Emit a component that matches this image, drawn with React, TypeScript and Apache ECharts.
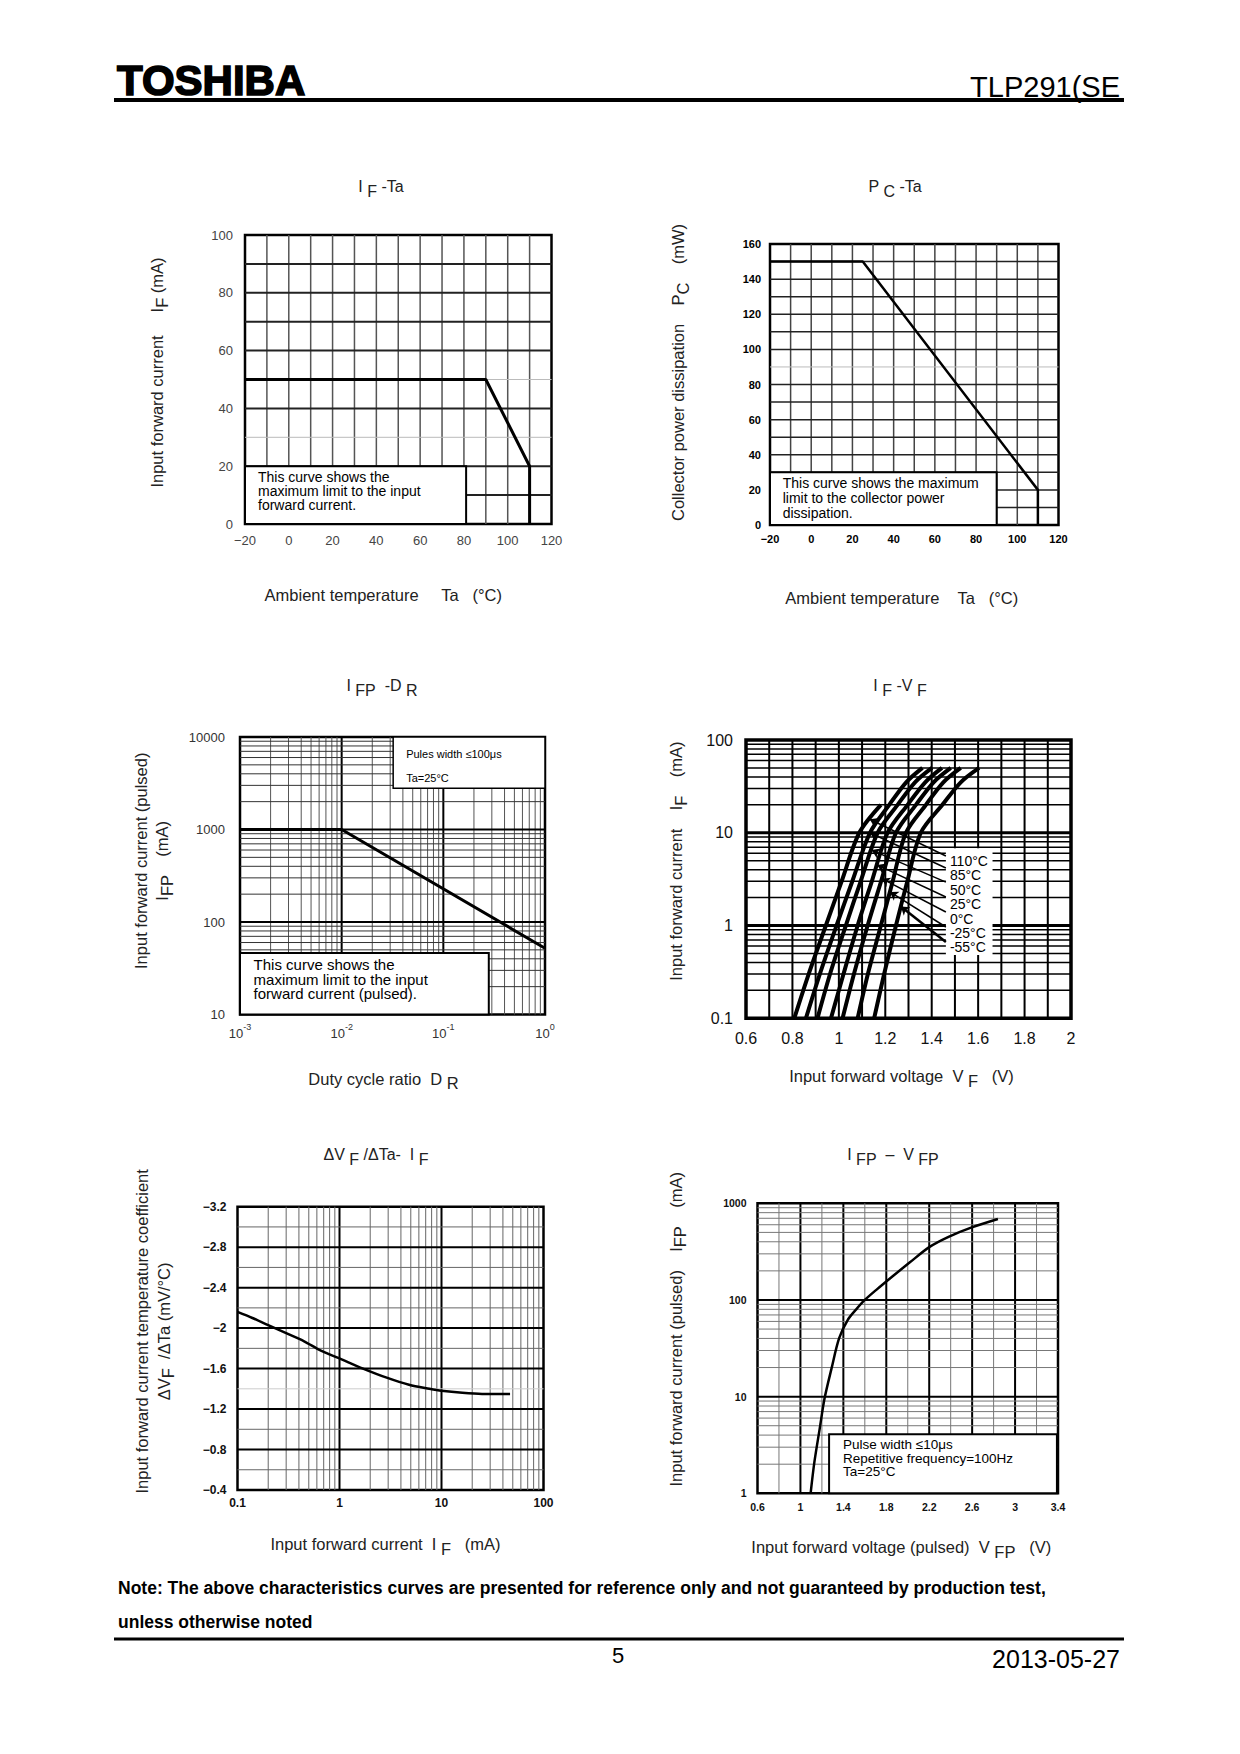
import React, { useEffect, useRef } from "react";
import * as echarts from "echarts";

const SANS = "'Liberation Sans', Arial, Helvetica, sans-serif";
const NARROW = "'Liberation Sans Narrow', 'Liberation Sans', Arial, sans-serif";

// ===== IF – Ta =====
const ifTaTemp = [-20, 90, 110, 110];
const ifTaCurrent = [50, 50, 20, 0];
const ifTaBox = [-20, 0, 81, 20];
const ifTaNote = ["This curve shows the", "maximum limit to the input", "forward current."];

// ===== PC – Ta =====
const pcTaTemp = [-20, 25, 110, 110];
const pcTaPower = [150, 150, 20, 0];
const pcTaBox = [-20, 0, 90, 30];
const pcTaNote = ["This curve shows the maximum", "limit to the collector power", "dissipation."];

// ===== IFP – DR =====
const dutyRatio = [0.001, 0.01, 1];
const ifpDuty = [1000, 1000, 52];
const drCondBox = [0.0321, 2786, 1, 10000];
const drCond = ["Pules width ≤100μs", "Ta=25°C"];
const drNoteBox = [0.001, 10, 0.28, 46.2];
const drNote = ["This curve shows the", "maximum limit to the input", "forward current (pulsed)."];

// ===== IF – VF =====
const vfTempLabels = ["110°C", "85°C", "50°C", "25°C", "0°C", "-25°C", "-55°C"];
const vfCurrent = [0.1, 0.3, 1, 3, 10, 20, 35, 50];
const vf110C = [0.808, 0.87, 0.944, 1.012, 1.088, 1.181];
const vf85C = [0.858, 0.918, 0.99, 1.058, 1.134, 1.217, 1.29, 1.36];
const vf50C = [0.908, 0.962, 1.03, 1.094, 1.167, 1.253, 1.328, 1.401];
const vf25C = [0.966, 1.02, 1.081, 1.142, 1.21, 1.296, 1.372, 1.444];
const vf0C = [1.016, 1.065, 1.124, 1.182, 1.246, 1.332, 1.408, 1.482];
const vfM25C = [1.081, 1.125, 1.181, 1.232, 1.289, 1.375, 1.45, 1.525];
const vfM55C = [1.152, 1.195, 1.246, 1.295, 1.353, 1.446, 1.525, 1.604];
const vfLabelBox = [1.461, 0.481, 1.662, 6.79];
const leaderCurveV = [1.133, 1.134, 1.141, 1.165, 1.185, 1.22, 1.267];
const leaderCurveI = [14, 10, 6.5, 4.5, 3.2, 2.3, 1.6];
const leaderLabelV = 1.461;
const leaderLabelI = [5.62, 4.17, 2.94, 2.03, 1.4, 0.964, 0.665];

// ===== ΔVF/ΔTa – IF =====
const dvCurrent = [0.1, 0.14, 0.2, 0.3, 0.45, 0.65, 1, 1.7, 2.9, 4.8, 7.6, 10, 16, 25, 47];
const dvCoef = [-2.16, -2.1, -2.03, -1.95, -1.87, -1.78, -1.7, -1.6, -1.51, -1.44, -1.4, -1.38, -1.36, -1.35, -1.35];

// ===== IFP – VFP =====
const vfpVoltage = [1.095, 1.13, 1.18, 1.225, 1.29, 1.36, 1.44, 1.52, 1.6, 1.71, 1.865, 2.02, 2.2, 2.38, 2.59, 2.84];
const ifpPulsed = [1, 2.1, 4.7, 9.6, 19.6, 40, 62, 80, 100, 128, 178, 245, 352, 450, 560, 689];
const vfpCondBox = [1.267, 1, 3.39, 4.07];
const vfpCond = ["Pulse width ≤10μs", "Repetitive frequency=100Hz", "Ta=25°C"];

// ===== grid line values =====
const tempGridV = [-10, 0, 10, 20, 30, 40, 50, 60, 70, 80, 90, 100, 110];
const ifGridH = [10, 20, 30, 40, 50, 60, 70, 80, 90];
const ifGridLight = [30, 50];
const pcGridH = [10, 20, 30, 40, 50, 60, 70, 80, 90, 100, 110, 120, 130, 140, 150];
const pcGridLight = [90];
const logMinor = [2, 3, 4, 5, 6, 7, 8, 9];
const drDecadesX = [0.001, 0.01, 0.1];
const drDecadesY = [10, 100, 1000];
const vfGridV = [0.7, 0.8, 0.9, 1.0, 1.1, 1.2, 1.3, 1.4, 1.5, 1.6, 1.7, 1.8, 1.9];
const vfDecadesY = [0.1, 1, 10];
const dvDecadesX = [0.1, 1, 10];
const dvGridH = [-3.0, -2.8, -2.6, -2.4, -2.2, -2.0, -1.8, -1.6, -1.4, -1.2, -1.0, -0.8, -0.6];
const dvGridMajor = [-2.8, -2.4, -2.0, -1.6, -1.2, -0.8];
const dvGridFaint = [-1.4];
const vfpGridV = [0.8, 1.0, 1.2, 1.4, 1.6, 1.8, 2.0, 2.2, 2.4, 2.6, 2.8, 3.0, 3.2];
const vfpGridMajor = [1.0, 1.4, 1.8, 2.2, 2.6, 3.0];
const vfpDecadesY = [1, 10, 100];

type GL = { v: number; o: "v" | "h"; c: string; w: number };

const near = (a: number, list: number[]) => list.some((b) => Math.abs(a - b) < 1e-9);

function linLines(vals: number[], o: "v" | "h", c: string, w: number, special: number[] = [], sc = "#bbb", sw = 1): GL[] {
  return vals.map((v) => (near(v, special) ? { v, o, c: sc, w: sw } : { v, o, c, w }));
}

function logLines(decades: number[], o: "v" | "h", mc: string, mw: number, nc: string, nw: number): GL[] {
  const out: GL[] = [];
  decades.forEach((d, i) => {
    if (i > 0) out.push({ v: d, o, c: mc, w: mw });
    logMinor.forEach((m) => out.push({ v: +(d * m).toPrecision(6), o, c: nc, w: nw }));
  });
  return out;
}

function gridLineSeries(idx: number, lines: GL[], xMin: number, yMin: number) {
  return {
    type: "custom",
    xAxisIndex: idx,
    yAxisIndex: idx,
    silent: true,
    z: 1,
    clip: false,
    encode: { x: 0, y: 1 },
    data: lines.map((l) => (l.o === "v" ? [l.v, yMin] : [xMin, l.v])),
    renderItem: (params: any, api: any) => {
      const l = lines[params.dataIndex];
      const cs = params.coordSys;
      const p = api.coord([api.value(0), api.value(1)]);
      const shape =
        l.o === "v"
          ? { x1: p[0], y1: cs.y, x2: p[0], y2: cs.y + cs.height }
          : { x1: cs.x, y1: p[1], x2: cs.x + cs.width, y2: p[1] };
      return { type: "line", shape, style: { stroke: l.c, lineWidth: l.w } };
    },
  };
}

function boxSeries(
  idx: number,
  box: number[],
  lines: string[],
  opt: { fontSize: number; family: string; lh: number; padX: number; padY: number; border: boolean; bw?: number }
) {
  return {
    type: "custom",
    xAxisIndex: idx,
    yAxisIndex: idx,
    silent: true,
    z: 2,
    clip: false,
    encode: { x: [0, 2], y: [1, 3] },
    data: [box],
    renderItem: (params: any, api: any) => {
      const a = api.coord([api.value(0), api.value(1)]);
      const b = api.coord([api.value(2), api.value(3)]);
      const x = Math.min(a[0], b[0]);
      const y = Math.min(a[1], b[1]);
      const w = Math.abs(b[0] - a[0]);
      const h = Math.abs(b[1] - a[1]);
      return {
        type: "group",
        children: [
          {
            type: "rect",
            shape: { x, y, width: w, height: h },
            style: { fill: "#fff", stroke: opt.border ? "#000" : null, lineWidth: opt.border ? opt.bw || 2 : 0 },
          },
          {
            type: "text",
            style: {
              text: lines.join("\n"),
              x: x + opt.padX,
              y: y + opt.padY,
              fontSize: opt.fontSize,
              fontFamily: opt.family,
              fill: "#000",
              lineHeight: opt.lh,
              align: "left",
              textAlign: "left",
              verticalAlign: "top",
              textVerticalAlign: "top",
            },
          },
        ],
      };
    },
  };
}

function curve(idx: number, xs: number[], ys: number[], width: number, smooth: number | boolean = false, extra: any = {}) {
  return {
    type: "line",
    xAxisIndex: idx,
    yAxisIndex: idx,
    silent: true,
    z: 3,
    showSymbol: false,
    symbol: "none",
    smooth,
    lineStyle: { color: "#000", width },
    data: xs.map((x, i) => [x, ys[i]]),
    ...extra,
  };
}

const minus = (v: number) => {
  const r = +(+v).toFixed(6);
  return r < 0 ? "−" + String(-r) : String(r);
};
const plain = (v: number) => String(+(+v).toPrecision(6));

const NAME_FS = 16.5;
const nameRich = (fs: number) => ({
  n: { fontSize: fs, fontFamily: SANS, color: "#222" },
  s: { fontSize: fs, fontFamily: SANS, color: "#222", padding: [9, 0, 0, 0] },
});

function axis(extra: any) {
  return {
    axisLine: { show: false },
    axisTick: { show: false },
    splitLine: { show: false },
    minorTick: { show: false },
    minorSplitLine: { show: false },
    nameLocation: "middle",
    ...extra,
  };
}

const lab = (fs: number, margin: number, family = SANS, weight: any = "normal", color = "#333", formatter: any = plain) => ({
  fontSize: fs,
  fontFamily: family,
  fontWeight: weight,
  color,
  margin,
  formatter,
  showMinLabel: true,
  showMaxLabel: true,
});

function buildOption() {
  const grids = [
    { left: 245, top: 235, width: 306.5, height: 289, bw: 2.5 },
    { left: 770, top: 244, width: 288.5, height: 281, bw: 2.5 },
    { left: 240, top: 737, width: 305, height: 277.5, bw: 2.5 },
    { left: 746, top: 740, width: 325, height: 278.3, bw: 3.5 },
    { left: 237.5, top: 1206.7, width: 306, height: 283.3, bw: 2.5 },
    { left: 757.5, top: 1203.3, width: 300.5, height: 290, bw: 2.5 },
  ].map((g) => ({
    left: g.left,
    top: g.top,
    width: g.width,
    height: g.height,
    show: true,
    borderColor: "#000",
    borderWidth: g.bw,
    backgroundColor: "#fff",
    containLabel: false,
    outerBoundsMode: "none",
  }));

  const xAxis = [
    axis({
      gridIndex: 0, type: "value", min: -20, max: 120, interval: 20,
      axisLabel: lab(13, 10, SANS, "normal", "#444", minus),
      name: "Ambient temperature     Ta   (°C)", nameGap: 62,
      nameTextStyle: { fontSize: NAME_FS, fontFamily: SANS, color: "#222", padding: [0, 30, 0, 0] },
    }),
    axis({
      gridIndex: 1, type: "value", min: -20, max: 120, interval: 20,
      axisLabel: lab(11, 8, SANS, "bold", "#000", minus),
      name: "Ambient temperature    Ta   (°C)", nameGap: 64,
      nameTextStyle: { fontSize: NAME_FS, fontFamily: SANS, color: "#222", padding: [0, 25, 0, 0] },
    }),
    axis({
      gridIndex: 2, type: "log", logBase: 10, min: 0.001, max: 1,
      axisLabel: {
        ...lab(13, 6, SANS, "normal", "#333"),
        formatter: (v: number) => `{b|10}{e|${Math.round(Math.log10(v))}}`,
        rich: {
          b: { fontSize: 13, fontFamily: SANS, color: "#333", padding: [6, 0, 0, 0] },
          e: { fontSize: 9, fontFamily: SANS, color: "#333", padding: [0, 0, 6, 0] },
        },
      },
      name: "{n|Duty cycle ratio  D }{s|R}", nameGap: 51,
      nameTextStyle: { rich: nameRich(NAME_FS), padding: [0, 18, 0, 0] },
    }),
    axis({
      gridIndex: 3, type: "value", min: 0.6, max: 2, interval: 0.2,
      axisLabel: lab(16, 12, SANS, "normal", "#111"),
      name: "{n|Input forward voltage  V }{s|F}{n|   (V)}", nameGap: 45,
      nameTextStyle: { rich: nameRich(NAME_FS), padding: [0, 14, 0, 0] },
    }),
    axis({
      gridIndex: 4, type: "log", logBase: 10, min: 0.1, max: 100,
      axisLabel: lab(12, 7, NARROW, "bold", "#111"),
      name: "{n|Input forward current  I }{s|F}{n|   (mA)}", nameGap: 41,
      nameTextStyle: { rich: nameRich(NAME_FS), padding: [0, 10, 0, 0] },
    }),
    axis({
      gridIndex: 5, type: "value", min: 0.6, max: 3.4, interval: 0.2,
      axisLabel: lab(10.5, 8, NARROW, "bold", "#111", (v: number) => {
        const k = (v - 0.6) / 0.4;
        return Math.abs(k - Math.round(k)) < 1e-6 ? String(+(+v).toFixed(2)) : "";
      }),
      name: "{n|Input forward voltage (pulsed)  V }{s|FP}{n|   (V)}", nameGap: 41,
      nameTextStyle: { rich: nameRich(NAME_FS), padding: [0, 13, 0, 0] },
    }),
  ];

  const yAxis = [
    axis({
      gridIndex: 0, type: "value", min: 0, max: 100, interval: 20,
      axisLabel: lab(13, 12, SANS, "normal", "#444"),
      name: "{n|Input forward current     I}{s|F}{n| (mA)}", nameGap: 75,
      nameTextStyle: { rich: nameRich(NAME_FS), padding: [0, 0, 0, 14] },
    }),
    axis({
      gridIndex: 1, type: "value", min: 0, max: 160, interval: 20,
      axisLabel: lab(11, 9, SANS, "bold", "#000"),
      name: "{n|Collector power dissipation    P}{s|C}{n|    (mW)}", nameGap: 79,
      nameTextStyle: { rich: nameRich(NAME_FS), padding: [0, 0, 0, 24] },
    }),
    axis({
      gridIndex: 2, type: "log", logBase: 10, min: 10, max: 10000,
      axisLabel: lab(13, 15, SANS, "normal", "#333"),
      name: "{n|Input forward current (pulsed)}\n{n|I}{s|FP}{n|    (mA)}", nameGap: 65,
      nameTextStyle: { rich: nameRich(NAME_FS), padding: [0, 0, 0, 30] },
    }),
    axis({
      gridIndex: 3, type: "log", logBase: 10, min: 0.1, max: 100,
      axisLabel: lab(16, 13, SANS, "normal", "#111"),
      name: "{n|Input forward current    I}{s|F}{n|    (mA)}", nameGap: 57,
      nameTextStyle: { rich: nameRich(NAME_FS), padding: [0, 0, 0, 36] },
    }),
    axis({
      gridIndex: 4, type: "value", inverse: true, min: -3.2, max: -0.4, interval: 0.4,
      axisLabel: lab(12, 11, NARROW, "bold", "#111", minus),
      name: "{n|Input forward current temperature coefficient}\n{n|ΔV}{s|F}{n|  /ΔTa (mV/°C)}", nameGap: 61,
      nameTextStyle: { rich: nameRich(NAME_FS), padding: [0, 0, 0, 34] },
    }),
    axis({
      gridIndex: 5, type: "log", logBase: 10, min: 1, max: 1000,
      axisLabel: lab(10.5, 11, NARROW, "bold", "#111"),
      name: "{n|Input forward current (pulsed)    I}{s|FP}{n|    (mA)}", nameGap: 69,
      nameTextStyle: { rich: nameRich(NAME_FS), padding: [0, 0, 0, 38] },
    }),
  ];

  const vfSets = [vf110C, vf85C, vf50C, vf25C, vf0C, vfM25C, vfM55C];

  const series: any[] = [
    // grid lines
    gridLineSeries(0, [...linLines(tempGridV, "v", "#555", 1.5), ...linLines(ifGridH, "h", "#222", 2, ifGridLight)], -20, 0),
    gridLineSeries(1, [...linLines(tempGridV, "v", "#444", 1.5), ...linLines(pcGridH, "h", "#222", 1.5, pcGridLight)], -20, 0),
    gridLineSeries(2, [...logLines(drDecadesX, "v", "#000", 2, "#555", 1), ...logLines(drDecadesY, "h", "#000", 2, "#333", 1)], 0.001, 10),
    gridLineSeries(3, [...linLines(vfGridV, "v", "#000", 2), ...logLines(vfDecadesY, "h", "#000", 3, "#000", 1.5)], 0.6, 0.1),
    gridLineSeries(
      4,
      [
        ...logLines(dvDecadesX, "v", "#000", 2, "#666", 1),
        ...dvGridH.map((v) =>
          near(v, dvGridMajor)
            ? { v, o: "h" as const, c: "#000", w: 2 }
            : near(v, dvGridFaint)
            ? { v, o: "h" as const, c: "#ccc", w: 1 }
            : { v, o: "h" as const, c: "#666", w: 1 }
        ),
      ],
      0.1,
      -3.2
    ),
    gridLineSeries(
      5,
      [
        ...vfpGridV.map((v) => (near(v, vfpGridMajor) ? { v, o: "v" as const, c: "#000", w: 2 } : { v, o: "v" as const, c: "#777", w: 1 })),
        ...logLines(vfpDecadesY, "h", "#000", 2, "#777", 1),
      ],
      0.6,
      1
    ),
    // annotation boxes
    boxSeries(0, ifTaBox, ifTaNote, { fontSize: 14, family: SANS, lh: 14.3, padX: 13, padY: 3.5, border: true }),
    boxSeries(1, pcTaBox, pcTaNote, { fontSize: 14, family: SANS, lh: 14.7, padX: 12.7, padY: 3.6, border: true }),
    boxSeries(2, drCondBox, drCond, { fontSize: 11, family: NARROW, lh: 24, padX: 13, padY: 5.3, border: true, bw: 1.5 }),
    boxSeries(2, drNoteBox, drNote, { fontSize: 15, family: SANS, lh: 14.5, padX: 13.6, padY: 4.7, border: true }),
    boxSeries(3, vfLabelBox, vfTempLabels, { fontSize: 14, family: SANS, lh: 14.4, padX: 4, padY: 5.5, border: false }),
    boxSeries(5, vfpCondBox, vfpCond, { fontSize: 13.5, family: SANS, lh: 13.5, padX: 14, padY: 3.5, border: true }),
    // curves
    curve(0, ifTaTemp, ifTaCurrent, 3),
    curve(1, pcTaTemp, pcTaPower, 2.5),
    curve(2, dutyRatio, ifpDuty, 3),
    ...vfSets.map((vals, i) =>
      curve(3, vals, vfCurrent.slice(0, vals.length), 4, 0.3, {
        name: vfTempLabels[i],
        markLine: {
          silent: true,
          animation: false,
          symbol: ["arrow", "none"],
          symbolSize: 8,
          label: { show: false },
          emphasis: { disabled: true },
          lineStyle: { color: "#000", width: i === 6 ? 2.5 : 1.5, type: "solid" },
          data: [[{ coord: [leaderCurveV[i], leaderCurveI[i]] }, { coord: [leaderLabelV, leaderLabelI[i]] }]],
        },
      })
    ),
    curve(4, dvCurrent, dvCoef, 2.5, 0.3),
    curve(5, vfpVoltage, ifpPulsed, 2.5, 0.3),
  ];

  const tRich = {
    n: { fontSize: 16, fontFamily: SANS, fill: "#222" },
    s: { fontSize: 16, fontFamily: SANS, fill: "#222", padding: [10, 0, 0, 0] },
  };
  const title = (x: number, y: number, text: string) => ({
    type: "text",
    x,
    y,
    silent: true,
    style: { text, rich: tRich, align: "center", textAlign: "center", verticalAlign: "middle", textVerticalAlign: "middle" },
  });
  const txt = (x: number, y: number, text: string, fontSize: number, align: string, weight = "normal", extra: any = {}) => ({
    type: "text",
    x,
    y,
    silent: true,
    style: {
      text,
      fontSize,
      fontFamily: SANS,
      fontWeight: weight,
      fill: "#000",
      align,
      textAlign: align,
      verticalAlign: "middle",
      textVerticalAlign: "middle",
      ...extra,
    },
  });

  const graphic = [
    txt(117, 80, "TOSHIBA", 42, "left", "bold", { stroke: "#000", lineWidth: 1.6 }),
    txt(1120, 87, "TLP291(SE", 29, "right"),
    { type: "rect", silent: true, shape: { x: 114, y: 98, width: 1010, height: 4 }, style: { fill: "#000" } },
    title(381, 186, "{n|I }{s|F}{n| -Ta}"),
    title(895, 186, "{n|P }{s|C}{n| -Ta}"),
    title(382, 685, "{n|I }{s|FP}{n|  -D }{s|R}"),
    title(900, 685, "{n|I }{s|F}{n| -V }{s|F}"),
    title(376, 1154, "{n|ΔV }{s|F}{n| /ΔTa-  I }{s|F}"),
    title(893, 1154, "{n|I }{s|FP}{n|  –  V }{s|FP}"),
    txt(118, 1588, "Note: The above characteristics curves are presented for reference only and not guaranteed by production test,", 17.5, "left", "bold"),
    txt(118, 1622, "unless otherwise noted", 17.5, "left", "bold"),
    { type: "rect", silent: true, shape: { x: 114, y: 1637.5, width: 1010, height: 3 }, style: { fill: "#000" } },
    txt(618, 1655, "5", 22, "center"),
    txt(1120, 1659, "2013-05-27", 25, "right"),
  ];

  return {
    animation: false,
    backgroundColor: "#fff",
    grid: grids,
    xAxis,
    yAxis,
    series,
    graphic,
  };
}

export default function App() {
  const ref = useRef<HTMLDivElement>(null);
  useEffect(() => {
    if (!ref.current) return;
    const chart = echarts.init(ref.current, null, { renderer: "svg" });
    chart.setOption(buildOption() as any);
    return () => chart.dispose();
  }, []);
  return (
    <div
      ref={ref}
      style={{ position: "absolute", left: 0, top: 0, width: 1240, height: 1754, background: "#fff" }}
    />
  );
}
